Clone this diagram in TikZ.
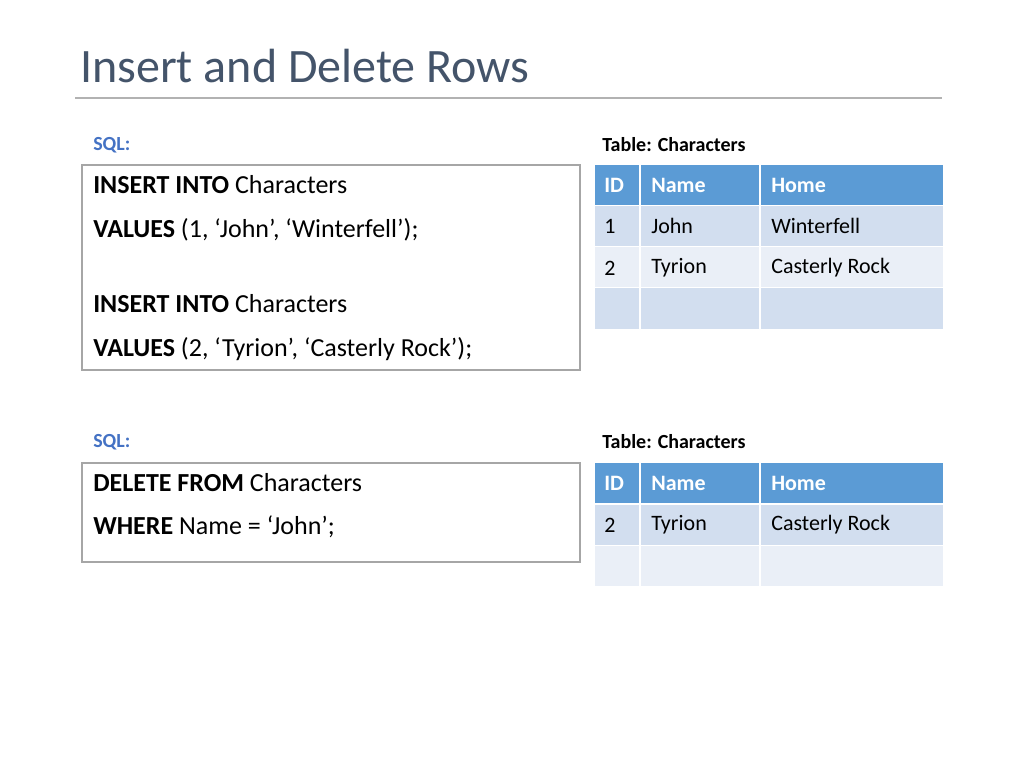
\documentclass[tikz,border=0pt]{standalone}
\usepackage{fontspec}
\setmainfont{Carlito}
\definecolor{ttl}{HTML}{44546A}
\definecolor{sqlb}{HTML}{4472C4}
\definecolor{hdr}{HTML}{5B9BD5}
\definecolor{rowa}{HTML}{D2DEEF}
\definecolor{rowb}{HTML}{EAEFF7}
\tikzset{
 code/.style={anchor=west,inner sep=0pt,font=\fontsize{19.5}{22}\selectfont},
 lbl/.style={anchor=west,inner sep=0pt,font=\fontsize{15}{18}\selectfont\bfseries},
 cell/.style={anchor=west,inner sep=0pt,font=\fontsize{16.5}{19}\selectfont},
 hcell/.style={cell,text=white,font=\fontsize{16.5}{19}\selectfont\bfseries},
 box/.style={draw=gray!70,line width=1pt}
}
\begin{document}
\begin{tikzpicture}[x=0.75pt,y=-0.75pt]
\useasboundingbox (0,0) rectangle (1024,768);
\node[anchor=base west,inner sep=0pt,text=ttl,font=\fontsize{36}{40}\selectfont] (title) at (80,82) {Insert and Delete Rows};
\draw[gray!60,line width=0.8pt] (75,98) -- (942,98);
% top
\node[lbl,text=sqlb] (s1) at (93,145) {SQL:};
\node[lbl] (t1) at (602,145) {Table: Characters};
\draw[box] (82,165) rectangle (580,370);
\node[code] (c1) at (93,185) {\textbf{INSERT INTO} Characters};
\node[code] (c2) at (93,230) {\textbf{VALUES} (1, ‘John’, ‘Winterfell’);};
\node[code] (c3) at (93,304) {\textbf{INSERT INTO} Characters};
\node[code] (c4) at (93,349) {\textbf{VALUES} (2, ‘Tyrion’, ‘Casterly Rock’);};
\foreach \y/\h/\c in {165/40/hdr,206/40/rowa,247/40/rowb,288/41/rowa}{
 \fill[\c] (595,\y) rectangle (639,\y+\h);
 \fill[\c] (641,\y) rectangle (759,\y+\h);
 \fill[\c] (761,\y) rectangle (943,\y+\h);
}
\node[hcell] (h1) at (604,185) {ID};
\node[hcell] (h2) at (651,185) {Name};
\node[hcell] (h3) at (771,185) {Home};
\node[cell] (a1) at (604,226) {1};
\node[cell] (a2) at (651,226) {John};
\node[cell] (a3) at (771,226) {Winterfell};
\node[cell] (b1) at (604,268) {2};
\node[cell] (b2) at (651,268) {Tyrion};
\node[cell] (b3) at (771,268) {Casterly Rock};
% bottom
\node[lbl,text=sqlb] (s2) at (93,442) {SQL:};
\node[lbl] (t2) at (602,442) {Table: Characters};
\draw[box] (82,463) rectangle (580,562);
\node[code] (d1) at (93,483) {\textbf{DELETE FROM} Characters};
\node[code] (d2) at (93,527) {\textbf{WHERE} Name = ‘John’;};
\foreach \y/\h/\c in {463/40/hdr,505/40/rowa,546/40/rowb}{
 \fill[\c] (595,\y) rectangle (639,\y+\h);
 \fill[\c] (641,\y) rectangle (759,\y+\h);
 \fill[\c] (761,\y) rectangle (943,\y+\h);
}
\node[hcell] (g1) at (604,483) {ID};
\node[hcell] (g2) at (651,483) {Name};
\node[hcell] (g3) at (771,483) {Home};
\node[cell] (e1) at (604,525) {2};
\node[cell] (e2) at (651,525) {Tyrion};
\node[cell] (e3) at (771,525) {Casterly Rock};
\end{tikzpicture}
\end{document}
